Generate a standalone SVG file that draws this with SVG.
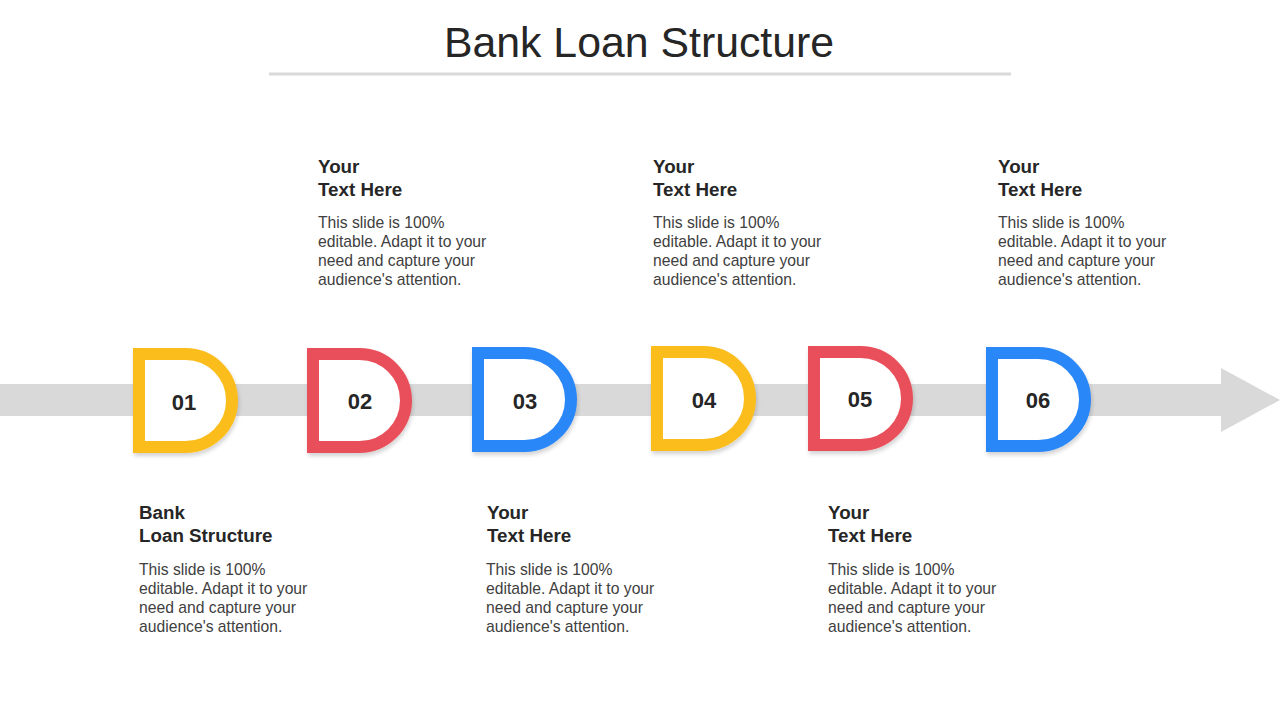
<svg xmlns="http://www.w3.org/2000/svg" width="1280" height="720" viewBox="0 0 1280 720">
<style>
.title{font-family:"Liberation Sans",Arial,sans-serif;font-size:42.8px;fill:#262626;text-anchor:middle}
.head{font-family:"Liberation Sans",Arial,sans-serif;font-size:18.8px;font-weight:bold;fill:#262626}
.body{font-family:"Liberation Sans",Arial,sans-serif;font-size:15.7px;fill:#404040}
.num{font-family:"Liberation Sans",Arial,sans-serif;font-size:22px;font-weight:bold;fill:#262626;text-anchor:middle}
.d{fill:#fff;stroke-width:12;filter:url(#sh)}
.y{stroke:#FABD1F}.r{stroke:#E9505A}.b{stroke:#2B87F7}
</style>
<defs>
<filter id="sh" x="-20%" y="-20%" width="140%" height="150%">
<feGaussianBlur in="SourceAlpha" stdDeviation="2"/>
<feOffset dx="1" dy="3" result="o"/>
<feComponentTransfer><feFuncA type="linear" slope="0.18"/></feComponentTransfer>
<feMerge><feMergeNode/><feMergeNode in="SourceGraphic"/></feMerge>
</filter>
<path id="dshape" d="M0,0 H46.5 A46.5,46.5 0 0 1 46.5,93 H0 Z"/>
</defs>
<rect width="1280" height="720" fill="#fff"/>
<text class="title" x="639" y="57">Bank Loan Structure</text>
<line x1="269" y1="74" x2="1011" y2="74" stroke="#D9D9D9" stroke-width="3"/>
<g id="connectors">
<path d="M0,384 H1221 V368 L1280,400 L1221,432 V416 H0 Z" fill="#D9D9D9"/>
</g>
<g id="node1"><use href="#dshape" class="d y" x="139" y="354"/><text class="num" x="184" y="410">01</text></g>
<g id="node2"><use href="#dshape" class="d r" x="313" y="354"/><text class="num" x="360" y="409">02</text></g>
<g id="node3"><use href="#dshape" class="d b" x="478" y="353"/><text class="num" x="525" y="409">03</text></g>
<g id="node4"><use href="#dshape" class="d y" x="657" y="352"/><text class="num" x="704" y="408">04</text></g>
<g id="node5"><use href="#dshape" class="d r" x="814" y="352"/><text class="num" x="860" y="407">05</text></g>
<g id="node6"><use href="#dshape" class="d b" x="992" y="353"/><text class="num" x="1038" y="408">06</text></g>
<g id="text1">
<text class="head" x="139" y="519">Bank</text><text class="head" x="139" y="542">Loan Structure</text>
<text class="body" x="139" y="575">This slide is 100%</text><text class="body" x="139" y="594">editable. Adapt it to your</text><text class="body" x="139" y="613">need and capture your</text><text class="body" x="139" y="632">audience's attention.</text>
</g>
<g id="text2">
<text class="head" x="318" y="173">Your</text><text class="head" x="318" y="196">Text Here</text>
<text class="body" x="318" y="228">This slide is 100%</text><text class="body" x="318" y="247">editable. Adapt it to your</text><text class="body" x="318" y="266">need and capture your</text><text class="body" x="318" y="285">audience's attention.</text>
</g>
<g id="text3">
<text class="head" x="487" y="519">Your</text><text class="head" x="487" y="542">Text Here</text>
<text class="body" x="486" y="575">This slide is 100%</text><text class="body" x="486" y="594">editable. Adapt it to your</text><text class="body" x="486" y="613">need and capture your</text><text class="body" x="486" y="632">audience's attention.</text>
</g>
<g id="text4">
<text class="head" x="653" y="173">Your</text><text class="head" x="653" y="196">Text Here</text>
<text class="body" x="653" y="228">This slide is 100%</text><text class="body" x="653" y="247">editable. Adapt it to your</text><text class="body" x="653" y="266">need and capture your</text><text class="body" x="653" y="285">audience's attention.</text>
</g>
<g id="text5">
<text class="head" x="828" y="519">Your</text><text class="head" x="828" y="542">Text Here</text>
<text class="body" x="828" y="575">This slide is 100%</text><text class="body" x="828" y="594">editable. Adapt it to your</text><text class="body" x="828" y="613">need and capture your</text><text class="body" x="828" y="632">audience's attention.</text>
</g>
<g id="text6">
<text class="head" x="998" y="173">Your</text><text class="head" x="998" y="196">Text Here</text>
<text class="body" x="998" y="228">This slide is 100%</text><text class="body" x="998" y="247">editable. Adapt it to your</text><text class="body" x="998" y="266">need and capture your</text><text class="body" x="998" y="285">audience's attention.</text>
</g>
</svg>
